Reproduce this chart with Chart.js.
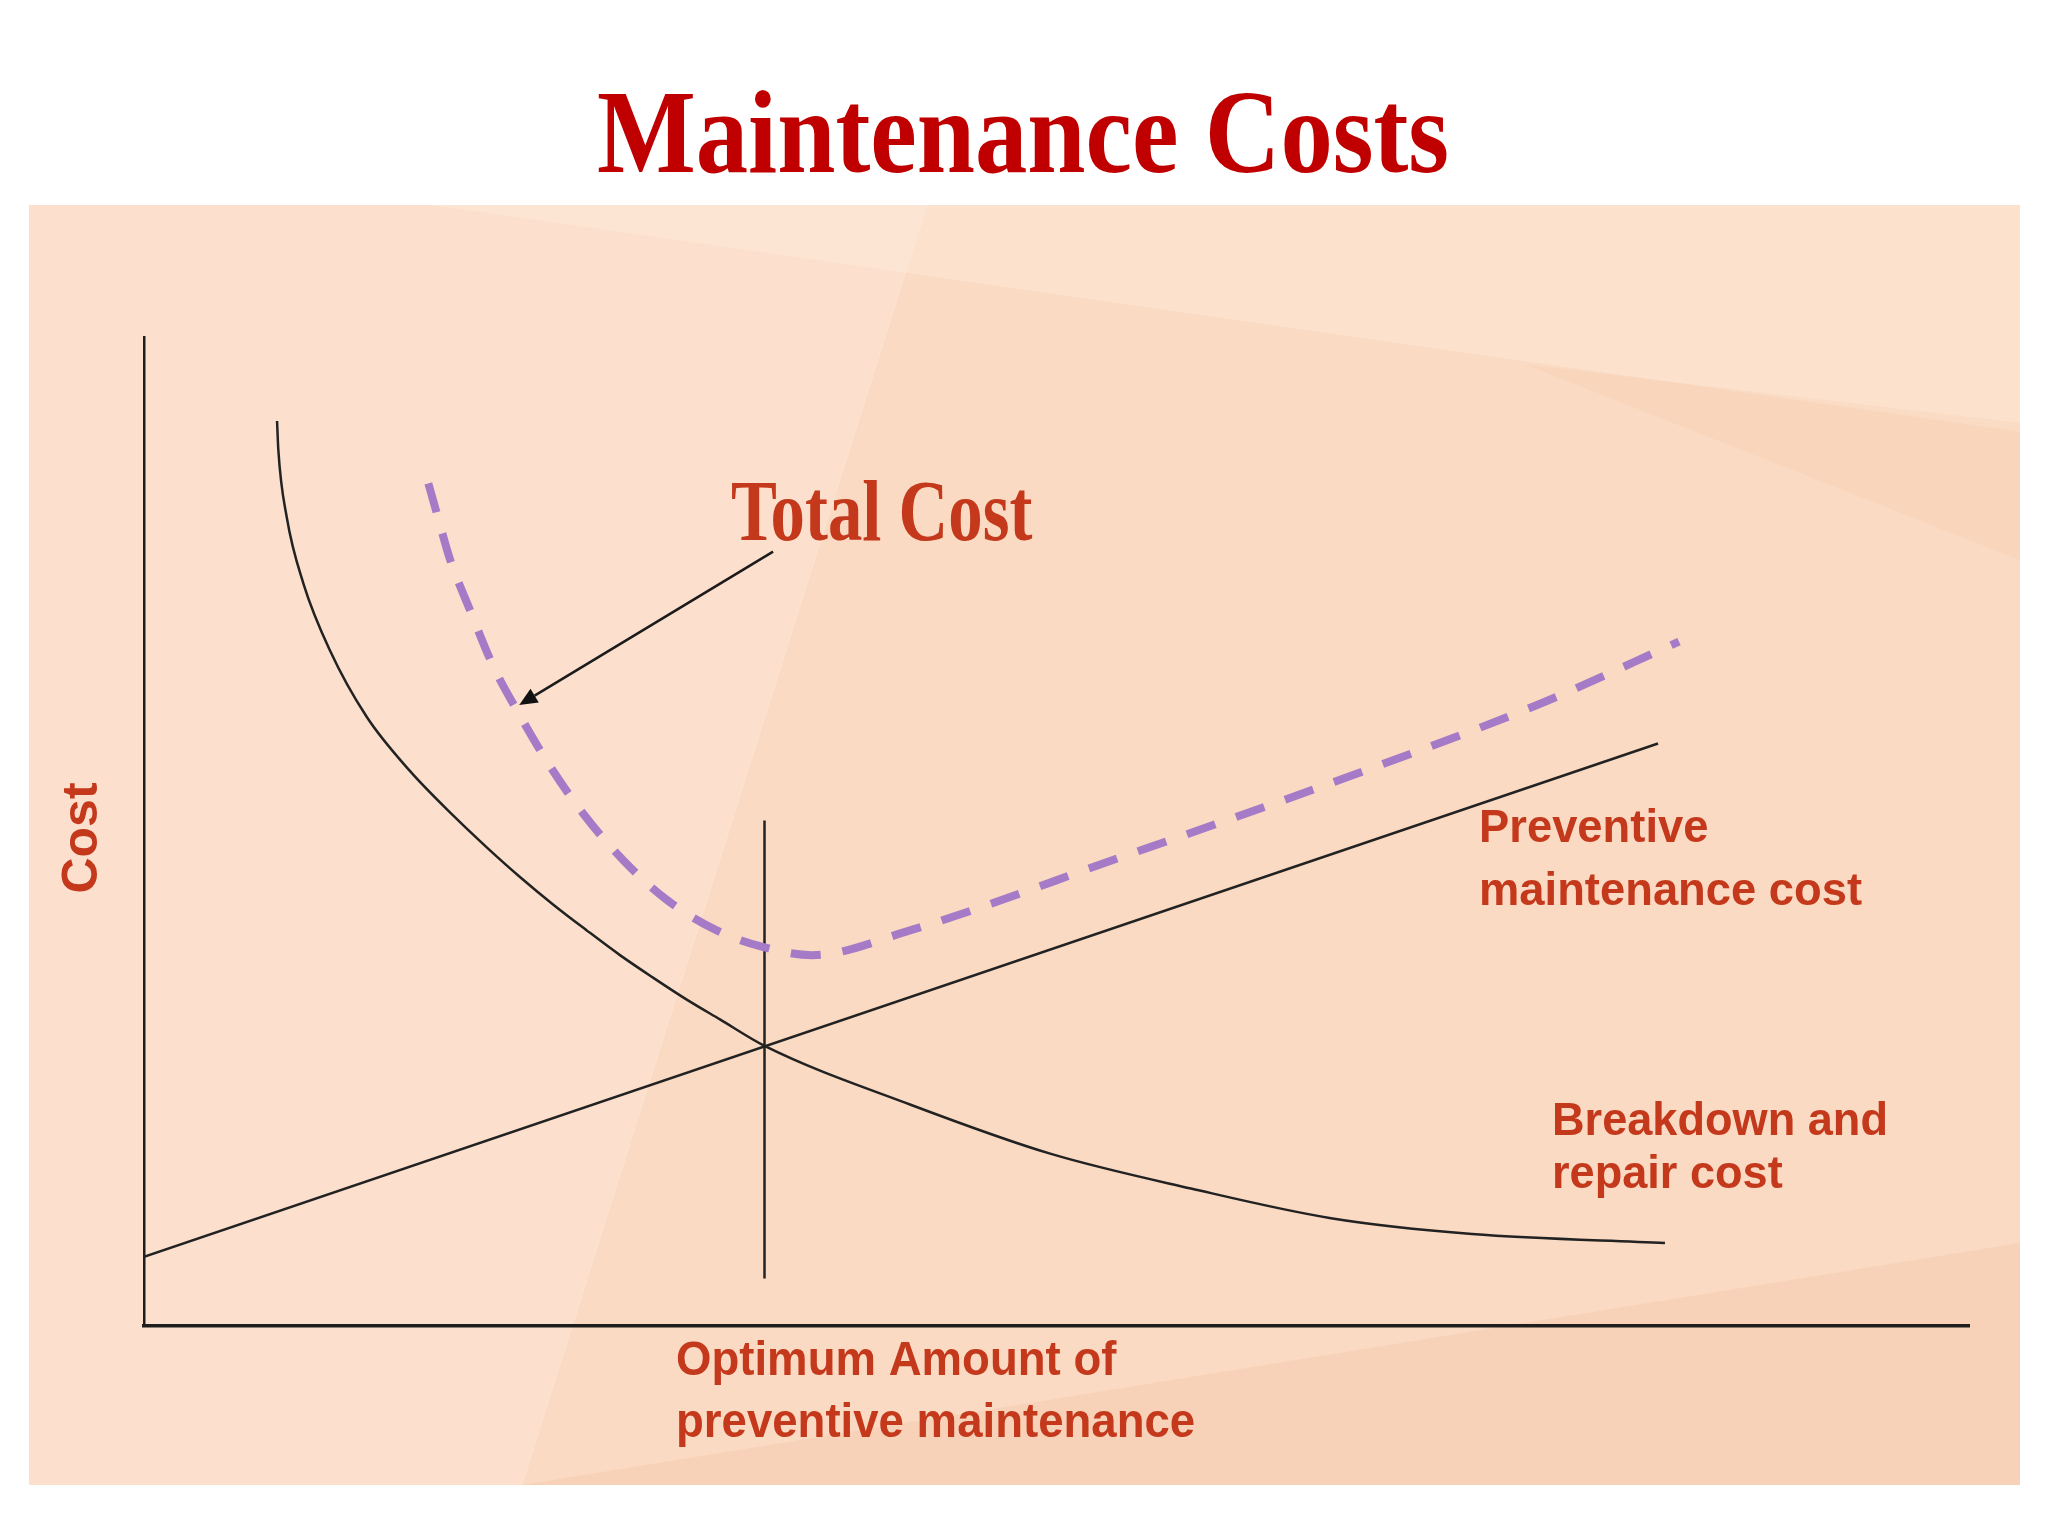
<!DOCTYPE html>
<html>
<head>
<meta charset="utf-8">
<title>Maintenance Costs</title>
<script src="https://cdn.jsdelivr.net/npm/chart.js@4.4.1/dist/chart.umd.min.js"></script>
<style>
  html, body { margin: 0; padding: 0; background: #fff; }
  #wrap { width: 2048px; height: 1536px; position: relative; }
</style>
</head>
<body>
<div id="wrap"><canvas id="chart"></canvas></div>
<script>
// curve data (x = amount of preventive maintenance, y = cost)
const breakdownX = [7.29, 7.36, 7.82, 8.73, 10.19, 12.20, 14.58, 16.95, 18.78, 20.60, 22.43, 24.26, 26.08, 27.91, 29.74, 31.56, 34.03, 41.97, 49.70, 57.37, 65.04, 72.77, 83.34];
const breakdownY = [91.5, 88.6, 81.8, 75.1, 68.3, 61.6, 56.1, 51.6, 48.4, 45.4, 42.6, 40.0, 37.5, 35.2, 33.0, 31.0, 28.3, 22.4, 17.4, 13.9, 10.9, 9.3, 8.4];

const preventiveX = [0, 82.96];
const preventiveY = [7.0, 58.9];

const totalX = [15.58, 16.04, 16.77, 17.86, 19.14, 20.42, 22.25, 24.07, 26.26, 28.64, 31.38, 33.75, 36.60, 41.97, 53.53, 65.04, 76.60, 84.11];
const totalY = [85.2, 82.2, 77.5, 72.4, 66.7, 62.3, 56.6, 51.8, 47.1, 43.1, 40.0, 38.4, 37.5, 40.0, 47.4, 54.9, 63.0, 69.2];

const optimumX = [34.0, 34.0];
const optimumY = [4.8, 51.1];

// arrow pointing at the total cost curve: tail, tip
const arrowX = [34.47, 20.56];
const arrowY = [78.3, 62.8];

const titleText = 'Maintenance Costs';
const totalLabel = 'Total Cost';
const preventiveLabel = ['Preventive', 'maintenance cost'];
const breakdownLabel = ['Breakdown and', 'repair cost'];
const optimumLabel = ['Optimum Amount of', 'preventive maintenance'];
const yAxisLabel = 'Cost';

const toPoints = (xs, ys) => xs.map((x, i) => ({ x: x, y: ys[i] }));

const labelRed = '#C4381C';

// squeezed text helper (the original lettering is a bit condensed)
function drawText(ctx, text, x, y, font, color, squeeze, align) {
  ctx.save();
  ctx.translate(x, y);
  ctx.scale(squeeze, 1);
  ctx.font = font;
  ctx.fillStyle = color;
  ctx.textAlign = align || 'left';
  ctx.textBaseline = 'alphabetic';
  ctx.fillText(text, 0, 0);
  ctx.restore();
}

function poly(ctx, pts, color) {
  ctx.fillStyle = color;
  ctx.beginPath();
  ctx.moveTo(pts[0][0], pts[0][1]);
  for (let i = 1; i < pts.length; i++) ctx.lineTo(pts[i][0], pts[i][1]);
  ctx.closePath();
  ctx.fill();
}

// peach slide background
const backdrop = {
  id: 'backdrop',
  beforeDraw(chart) {
    const ctx = chart.ctx;
    ctx.save();
    ctx.fillStyle = '#ffffff';
    ctx.fillRect(0, 0, chart.width, chart.height);

    const x0 = 29, y0 = 205, x1 = 2020, y1 = 1485;
    ctx.beginPath();
    ctx.rect(x0, y0, x1 - x0, y1 - y0);
    ctx.clip();

    // left and right of the soft fold
    poly(ctx, [[x0, y0], [927, y0], [522, y1], [x0, y1]], '#FCE0CD');
    poly(ctx, [[927, y0], [x1, y0], [x1, y1], [522, y1]], '#FADAC2');

    // lighter area above the long diagonal
    poly(ctx, [[431, y0], [x1, y0], [x1, 432]], 'rgba(255, 238, 226, 0.35)');

    // thin darker wedge at the right edge
    poly(ctx, [[1527, 365], [x1, 423], [x1, 560]], 'rgba(246, 196, 162, 0.2)');

    // bottom-right wedge
    poly(ctx, [[522, y1], [x1, 1243], [x1, y1]], 'rgba(246, 192, 158, 0.28)');
    ctx.restore();
  }
};

// title, curve labels and the arrow
const annotations = {
  id: 'annotations',
  afterDraw(chart) {
    const ctx = chart.ctx;
    const xs = chart.scales.x, ys = chart.scales.y;

    drawText(ctx, titleText, 1023, 172, 'bold 119px "Liberation Serif"', '#C00000', 0.88, 'center');

    drawText(ctx, totalLabel, 731, 540, 'bold 86px "Liberation Serif"', labelRed, 0.80);

    const sans = 'bold 47px "Liberation Sans"';
    drawText(ctx, preventiveLabel[0], 1479, 842, sans, labelRed, 0.965);
    drawText(ctx, preventiveLabel[1], 1479, 905, sans, labelRed, 0.965);
    drawText(ctx, breakdownLabel[0], 1552, 1135, sans, labelRed, 0.96);
    drawText(ctx, breakdownLabel[1], 1552, 1188, sans, labelRed, 0.96);
    drawText(ctx, optimumLabel[0], 676, 1375, 'bold 49px "Liberation Sans"', labelRed, 0.93);
    drawText(ctx, optimumLabel[1], 676, 1437, 'bold 49px "Liberation Sans"', labelRed, 0.93);

    // rotated axis label
    ctx.save();
    ctx.translate(97, 838);
    ctx.rotate(-Math.PI / 2);
    ctx.font = 'bold 50px "Liberation Sans"';
    ctx.fillStyle = labelRed;
    ctx.textAlign = 'center';
    ctx.fillText(yAxisLabel, 0, 0);
    ctx.restore();

    // arrow
    const tx = xs.getPixelForValue(arrowX[0]), ty = ys.getPixelForValue(arrowY[0]);
    const hx = xs.getPixelForValue(arrowX[1]), hy = ys.getPixelForValue(arrowY[1]);
    const ang = Math.atan2(hy - ty, hx - tx);
    const headLen = 18, headW = 8;
    const bx = hx - Math.cos(ang) * headLen, by = hy - Math.sin(ang) * headLen;
    ctx.save();
    ctx.strokeStyle = '#1b1b1b';
    ctx.lineWidth = 2.5;
    ctx.beginPath();
    ctx.moveTo(tx, ty);
    ctx.lineTo(bx, by);
    ctx.stroke();
    poly(ctx, [[hx, hy], [bx - Math.sin(ang) * headW, by + Math.cos(ang) * headW], [bx + Math.sin(ang) * headW, by - Math.cos(ang) * headW]], '#111');
    ctx.restore();
  }
};

const chart = document.querySelector('#chart').getContext('2d');
new Chart(chart, {
  type: 'line',
  data: {
    datasets: [
      {
        label: 'Breakdown and repair cost',
        data: toPoints(breakdownX, breakdownY),
        borderColor: '#222',
        borderWidth: 2.5,
        cubicInterpolationMode: 'monotone',
        pointRadius: 0
      },
      {
        label: 'Preventive maintenance cost',
        data: toPoints(preventiveX, preventiveY),
        borderColor: '#222',
        borderWidth: 2.5,
        pointRadius: 0
      },
      {
        label: 'Total Cost',
        data: toPoints(totalX, totalY),
        borderColor: '#A57BC8',
        borderWidth: 8,
        borderDash: [30, 22],
        borderCapStyle: 'butt',
        cubicInterpolationMode: 'monotone',
        pointRadius: 0
      },
      {
        label: 'Optimum',
        data: toPoints(optimumX, optimumY),
        borderColor: '#222',
        borderWidth: 2.5,
        pointRadius: 0
      }
    ]
  },
  options: {
    responsive: true,
    maintainAspectRatio: false,
    animation: false,
    layout: { padding: { left: 144, right: 79, top: 337, bottom: 210 } },
    plugins: {
      legend: { display: false },
      tooltip: { enabled: false },
      title: { display: false }
    },
    scales: {
      x: {
        type: 'linear', min: 0, max: 100,
        grid: { display: false, drawTicks: false },
        ticks: { display: false },
        border: { display: true, color: '#1e1e1e', width: 3.5 }
      },
      y: {
        min: 0, max: 100,
        grid: { display: false, drawTicks: false },
        ticks: { display: false },
        border: { display: true, color: '#1e1e1e', width: 2.5 }
      }
    }
  },
  plugins: [backdrop, annotations]
});
</script>
</body>
</html>
